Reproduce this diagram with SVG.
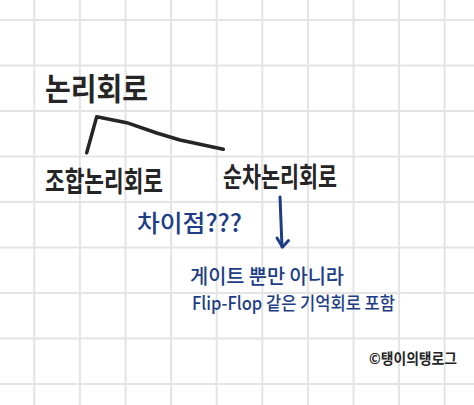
<svg xmlns="http://www.w3.org/2000/svg" width="474" height="405" viewBox="0 0 474 405">
<style>
.grid line{stroke:#e4e4e4;stroke-width:2}
.k{font-family:"Noto Sans CJK KR","Noto Sans",sans-serif;fill:#252525;font-weight:700}
.b{font-family:"Noto Sans CJK KR","Noto Sans",sans-serif;fill:#1d3d86;font-weight:500}
.conn{fill:none;stroke-linecap:round;stroke-linejoin:round}
</style>
<rect width="474" height="405" fill="#ffffff"/>
<g class="grid">
<line x1="34.3" y1="0" x2="34.3" y2="405"/>
<line x1="79.9" y1="0" x2="79.9" y2="405"/>
<line x1="125.5" y1="0" x2="125.5" y2="405"/>
<line x1="171.1" y1="0" x2="171.1" y2="405"/>
<line x1="216.7" y1="0" x2="216.7" y2="405"/>
<line x1="262.3" y1="0" x2="262.3" y2="405"/>
<line x1="307.9" y1="0" x2="307.9" y2="405"/>
<line x1="353.5" y1="0" x2="353.5" y2="405"/>
<line x1="399.1" y1="0" x2="399.1" y2="405"/>
<line x1="444.7" y1="0" x2="444.7" y2="405"/>
<line x1="0" y1="20" x2="474" y2="20"/>
<line x1="0" y1="65.5" x2="474" y2="65.5"/>
<line x1="0" y1="111" x2="474" y2="111"/>
<line x1="0" y1="156.5" x2="474" y2="156.5"/>
<line x1="0" y1="202" x2="474" y2="202"/>
<line x1="0" y1="247.5" x2="474" y2="247.5"/>
<line x1="0" y1="293" x2="474" y2="293"/>
<line x1="0" y1="338.5" x2="474" y2="338.5"/>
<line x1="0" y1="384" x2="474" y2="384"/>
</g>
<g id="connectors">
<path class="conn" d="M86.7,152.7 L96.7,116.7 L126.7,122.7 L156.7,133 L180,140 L223.3,149.3" stroke="#252525" stroke-width="3.5"/>
<path class="conn" d="M280,197 L282,247" stroke="#1d3d86" stroke-width="3"/>
<path class="conn" d="M277,238 L282.5,247 L288.5,240.5" stroke="#1d3d86" stroke-width="3"/>
</g>
<g id="root"><text class="k" x="45" y="100" font-size="31" textLength="103" lengthAdjust="spacingAndGlyphs">논리회로</text></g>
<g id="comb"><text class="k" x="45" y="192" font-size="28" textLength="118" lengthAdjust="spacingAndGlyphs">조합논리회로</text></g>
<g id="seq"><text class="k" x="223" y="187" font-size="27" textLength="114" lengthAdjust="spacingAndGlyphs">순차논리회로</text></g>
<g id="diff"><text class="b" x="137" y="232" font-size="24" font-weight="700" textLength="105" lengthAdjust="spacingAndGlyphs">차이점???</text></g>
<g id="note">
<text class="b" x="190" y="284" font-size="20" textLength="154" lengthAdjust="spacingAndGlyphs">게이트 뿐만 아니라</text>
<text class="b" x="192" y="310" font-size="18.5" textLength="203" lengthAdjust="spacingAndGlyphs">Flip-Flop 같은 기억회로 포함</text>
</g>
<g id="credit"><text class="k" x="369" y="364" font-size="15" font-weight="500" textLength="88" lengthAdjust="spacingAndGlyphs">©탱이의탱로그</text></g>
</svg>
